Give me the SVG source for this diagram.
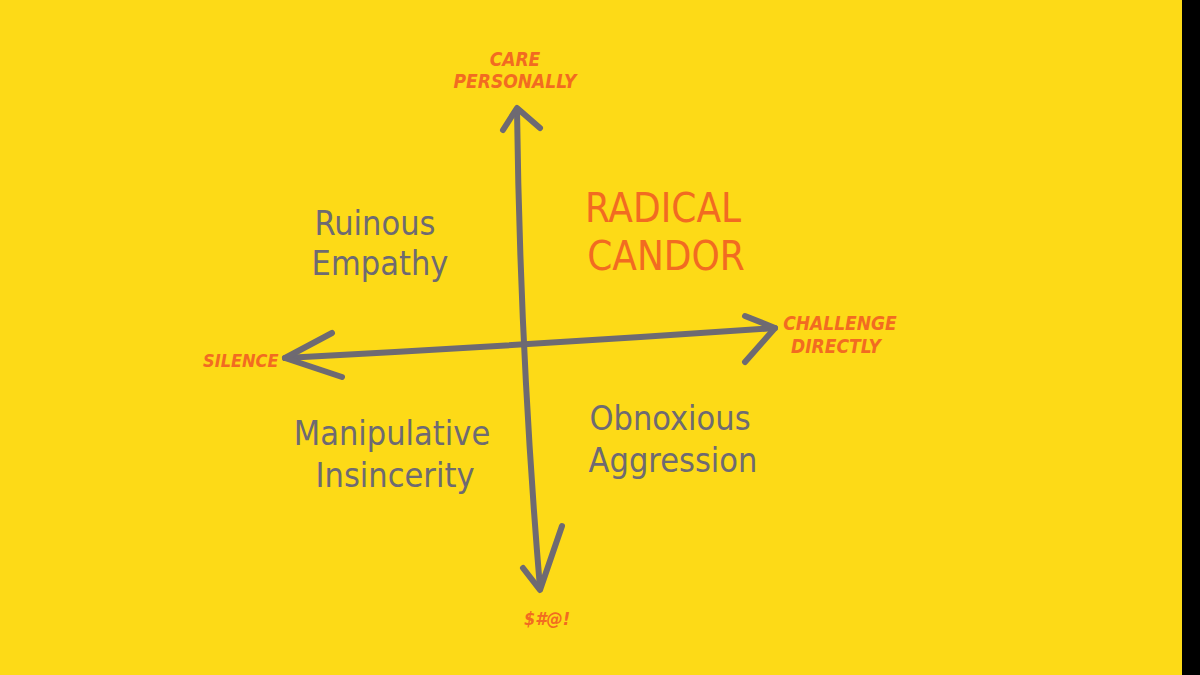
<svg xmlns="http://www.w3.org/2000/svg" width="1200" height="675" viewBox="0 0 1200 675">
<style>
.ax{fill:none;stroke:#6E6A72;stroke-width:6;stroke-linecap:round;stroke-linejoin:round}
.lab{font-family:"DejaVu Sans Condensed","DejaVu Sans",sans-serif;font-weight:bold;font-style:italic;fill:#F26B21}
.q{font-family:"DejaVu Sans Condensed","DejaVu Sans",sans-serif;fill:#6E6A72;font-size:34px}
.big{font-family:"DejaVu Sans Condensed","DejaVu Sans",sans-serif;fill:#F26B21;font-size:40px}
</style>
<rect width="1200" height="675" fill="#FDDA17"/>
<rect x="1182" y="0" width="18" height="675" fill="#000"/>
<g id="connectors">
<path class="ax" d="M517 110 Q520 350 540 588"/>
<path class="ax" d="M503 130 L517 108 L540 128"/>
<path class="ax" d="M523 568 L540 590 L562 526"/>
<path class="ax" d="M285 358 Q530 345 775 328"/>
<path class="ax" d="M332 333 L285 358 L342 377"/>
<path class="ax" d="M745 316 L775 328 L745 362"/>
</g>
<g id="care"><text class="lab" font-size="19" text-anchor="middle"><tspan x="515" y="66">CARE</tspan><tspan x="515" y="88">PERSONALLY</tspan></text></g>
<g id="challenge"><text class="lab" font-size="19" text-anchor="middle"><tspan x="840" y="330">CHALLENGE</tspan><tspan x="836" y="353">DIRECTLY</tspan></text></g>
<g id="silence"><text class="lab" font-size="18" x="203" y="367">SILENCE</text></g>
<g id="symbols"><text class="lab" font-size="18" x="524" y="625">$#@!</text></g>
<g id="radical"><text class="big" text-anchor="middle" x="663" y="222">RADICAL</text><text class="big" text-anchor="middle" x="666" y="270">CANDOR</text></g>
<g id="ruinous"><text class="q" text-anchor="middle"><tspan x="375" y="235">Ruinous</tspan><tspan x="380" y="275">Empathy</tspan></text></g>
<g id="manip"><text class="q" text-anchor="middle"><tspan x="392" y="445">Manipulative</tspan><tspan x="395" y="487">Insincerity</tspan></text></g>
<g id="obnox"><text class="q" text-anchor="middle"><tspan x="670" y="430">Obnoxious</tspan><tspan x="673" y="472">Aggression</tspan></text></g>
</svg>
